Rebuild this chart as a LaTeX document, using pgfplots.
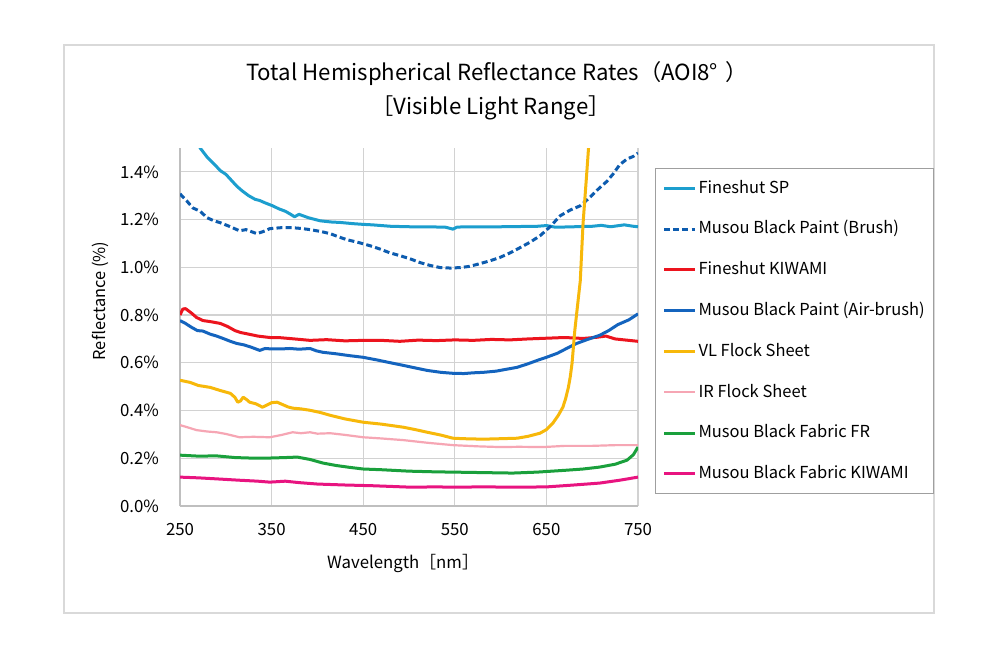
\documentclass[border=0pt]{standalone}
\usepackage{fontspec}
\setmainfont{Noto Sans CJK JP}
\usepackage{pgfplots}
\pgfplotsset{compat=1.18}
\definecolor{cSP}{RGB}{28,158,206}
\definecolor{cBrush}{RGB}{13,92,175}
\definecolor{cKIW}{RGB}{236,20,30}
\definecolor{cAir}{RGB}{20,100,190}
\definecolor{cVL}{RGB}{247,184,10}
\definecolor{cIR}{RGB}{246,166,180}
\definecolor{cFR}{RGB}{26,160,60}
\definecolor{cFK}{RGB}{232,20,128}
\begin{document}
\begin{tikzpicture}
\path[fill=white] (0,0) rectangle (500pt,330pt);
\draw[gray!30, line width=0.9pt] (32pt,307.5pt) rectangle (467pt,23.5pt);
\node[font=\fontsize{11.1}{13}\selectfont] at (248.5pt,293pt) {Total Hemispherical Reflectance Rates（AOI8°\,\,）};
\node[font=\fontsize{11.1}{13}\selectfont] at (245.5pt,276pt) {［Visible Light Range］};
\node[font=\fontsize{8.2}{10}\selectfont, rotate=90] at (50pt,179.5pt) {Reflectance (\%)};
\node[font=\fontsize{8.4}{10}\selectfont] at (201.5pt,48.5pt) {Wavelength［nm］};
\begin{axis}[
  at={(90pt,77pt)}, anchor=south west,
  scale only axis, width=229pt, height=179pt,
  xmin=250, xmax=750, ymin=0, ymax=1.5,
  xtick={250,350,...,750},
  ytick={0,0.2,0.4,0.6,0.8,1.0,1.2,1.4},
  yticklabels={0.0\%,0.2\%,0.4\%,0.6\%,0.8\%,1.0\%,1.2\%,1.4\%},
  /pgf/number format/assume math mode=true,
  major tick length=0pt,
  grid=major,
  major grid style={gray!35, line width=0.6pt},
  axis x line*=bottom, axis y line*=left,
  axis line style={draw=gray!50, line width=0.8pt, -},
  tick label style={font=\fontsize{8.4}{10}\selectfont},
  xticklabel style={yshift=-5pt},
  yticklabel style={xshift=-7pt},
  legend style={at={(1.037,0.944)}, anchor=north west, draw=gray!75, line width=0.6pt,
    fill=white, font=\fontsize{8.25}{10}\selectfont, row sep=10.1pt, column sep=0pt,
    inner xsep=3.5pt, inner ysep=4.7pt,
    nodes={text height=6.5pt, text depth=1.8pt, inner sep=1pt}},
  legend cell align=left,
  legend image code/.code={\draw[#1] (0pt,0pt) -- (15.5pt,0pt);},
  every axis plot/.append style={line width=1.5pt, line join=round},
]
\addplot[cSP] coordinates {(262,1.62)(266,1.56)(272,1.50)(280,1.46)(288,1.43)(294,1.405)(300,1.39)(306,1.365)(312,1.34)(318,1.32)(325,1.30)(332,1.285)(337,1.28)(343,1.27)(351,1.258)(358,1.245)(365,1.235)(370,1.224)(375,1.212)(380,1.222)(390,1.208)(403,1.195)(415,1.19)(425,1.188)(439,1.183)(450,1.18)(460,1.178)(470,1.175)(480,1.172)(501,1.170)(520,1.170)(540,1.168)(548,1.160)(552,1.168)(560,1.170)(600,1.170)(640,1.172)(650,1.175)(660,1.168)(680,1.170)(700,1.172)(710,1.176)(720,1.170)(735,1.178)(745,1.172)(750,1.170)};
\addlegendentry{Fineshut SP}
\addplot[cBrush, dash pattern=on 3pt off 1.6pt] coordinates {(250,1.308)(257,1.28)(264,1.249)(272,1.235)(279.5,1.208)(287,1.195)(294,1.187)(305,1.17)(315,1.153)(322,1.158)(334,1.141)(341,1.150)(348,1.162)(360,1.166)(373,1.166)(382,1.163)(392,1.158)(404,1.150)(414,1.141)(423,1.128)(432,1.116)(445,1.104)(457,1.091)(468,1.077)(479,1.061)(490,1.049)(501,1.036)(512,1.020)(523,1.008)(534,0.999)(545,0.997)(556,0.999)(566,1.004)(577,1.015)(588,1.027)(599,1.041)(610,1.060)(621,1.082)(632,1.105)(643,1.132)(654,1.170)(665,1.216)(676,1.240)(687,1.258)(698,1.295)(708,1.333)(716,1.360)(723,1.392)(730,1.430)(738,1.454)(745,1.465)(750,1.479)};
\addlegendentry{Musou Black Paint (Brush)}
\addplot[cKIW] coordinates {(250,0.800)(253,0.825)(256,0.827)(262,0.81)(268,0.79)(275,0.777)(284,0.772)(294,0.765)(302,0.752)(310,0.735)(316,0.727)(325,0.720)(335,0.712)(348,0.706)(360,0.705)(375,0.700)(392,0.694)(410,0.697)(430,0.692)(450,0.694)(470,0.694)(490,0.690)(510,0.695)(530,0.693)(550,0.696)(570,0.694)(590,0.698)(610,0.696)(630,0.700)(650,0.703)(670,0.706)(690,0.702)(705,0.707)(715,0.712)(725,0.700)(740,0.694)(750,0.690)};
\addlegendentry{Fineshut KIWAMI}
\addplot[cAir] coordinates {(250,0.777)(256,0.765)(262,0.750)(269,0.735)(275,0.733)(283,0.720)(290,0.712)(297,0.702)(305,0.690)(312,0.681)(320,0.675)(328,0.665)(337,0.652)(343,0.660)(350,0.658)(360,0.658)(370,0.660)(380,0.657)(392,0.660)(399,0.650)(406,0.644)(420,0.638)(435,0.630)(450,0.623)(465,0.612)(480,0.600)(494,0.589)(505,0.580)(520,0.568)(535,0.560)(548,0.556)(560,0.555)(570,0.558)(581,0.560)(595,0.565)(605,0.572)(618,0.581)(630,0.596)(640,0.610)(650,0.623)(662,0.640)(672,0.660)(683,0.681)(695,0.698)(708,0.715)(718,0.735)(728,0.760)(740,0.780)(750,0.805)};
\addlegendentry{Musou Black Paint (Air-brush)}
\addplot[cVL] coordinates {(250,0.527)(256,0.522)(261,0.518)(270,0.505)(283,0.497)(293,0.485)(305,0.472)(310,0.455)(313,0.435)(316,0.440)(319,0.456)(323,0.445)(326,0.435)(333,0.428)(340,0.414)(346,0.425)(350,0.433)(356,0.435)(362,0.425)(368,0.415)(373,0.410)(382,0.407)(392,0.401)(403,0.392)(414,0.380)(430,0.365)(450,0.351)(470,0.343)(494,0.330)(507,0.320)(520,0.309)(535,0.297)(548,0.284)(560,0.282)(581,0.280)(600,0.282)(618,0.284)(630,0.292)(643,0.305)(650,0.320)(657,0.347)(663,0.380)(668,0.414)(671,0.450)(674,0.497)(676,0.540)(678,0.598)(681,0.735)(684,0.840)(687,0.944)(690,1.183)(694,1.392)(696,1.50)(700,1.75)};
\addlegendentry{VL Flock Sheet}
\addplot[cIR, line width=1.1pt] coordinates {(250,0.339)(258,0.330)(268,0.318)(280,0.312)(290,0.309)(300,0.302)(315,0.288)(330,0.290)(348,0.288)(360,0.297)(373,0.309)(382,0.305)(392,0.309)(400,0.303)(414,0.305)(430,0.298)(450,0.288)(470,0.283)(494,0.276)(520,0.265)(548,0.255)(575,0.250)(599,0.247)(620,0.248)(647,0.247)(670,0.252)(700,0.252)(725,0.255)(750,0.255)};
\addlegendentry{IR Flock Sheet}
\addplot[cFR] coordinates {(250,0.213)(270,0.209)(290,0.210)(310,0.203)(326,0.201)(348,0.201)(365,0.203)(378,0.205)(392,0.195)(406,0.180)(420,0.170)(435,0.162)(450,0.155)(470,0.152)(500,0.146)(530,0.143)(548,0.142)(580,0.140)(613,0.138)(640,0.142)(672,0.150)(690,0.155)(708,0.163)(725,0.175)(738,0.192)(745,0.215)(750,0.247)};
\addlegendentry{Musou Black Fabric FR}
\addplot[cFK] coordinates {(250,0.121)(270,0.118)(293,0.113)(315,0.108)(335,0.104)(348,0.100)(365,0.104)(380,0.098)(400,0.092)(430,0.088)(460,0.085)(501,0.079)(530,0.080)(548,0.079)(580,0.080)(620,0.079)(650,0.080)(680,0.088)(708,0.096)(730,0.108)(750,0.121)};
\addlegendentry{Musou Black Fabric KIWAMI}
\end{axis}
\end{tikzpicture}
\end{document}
